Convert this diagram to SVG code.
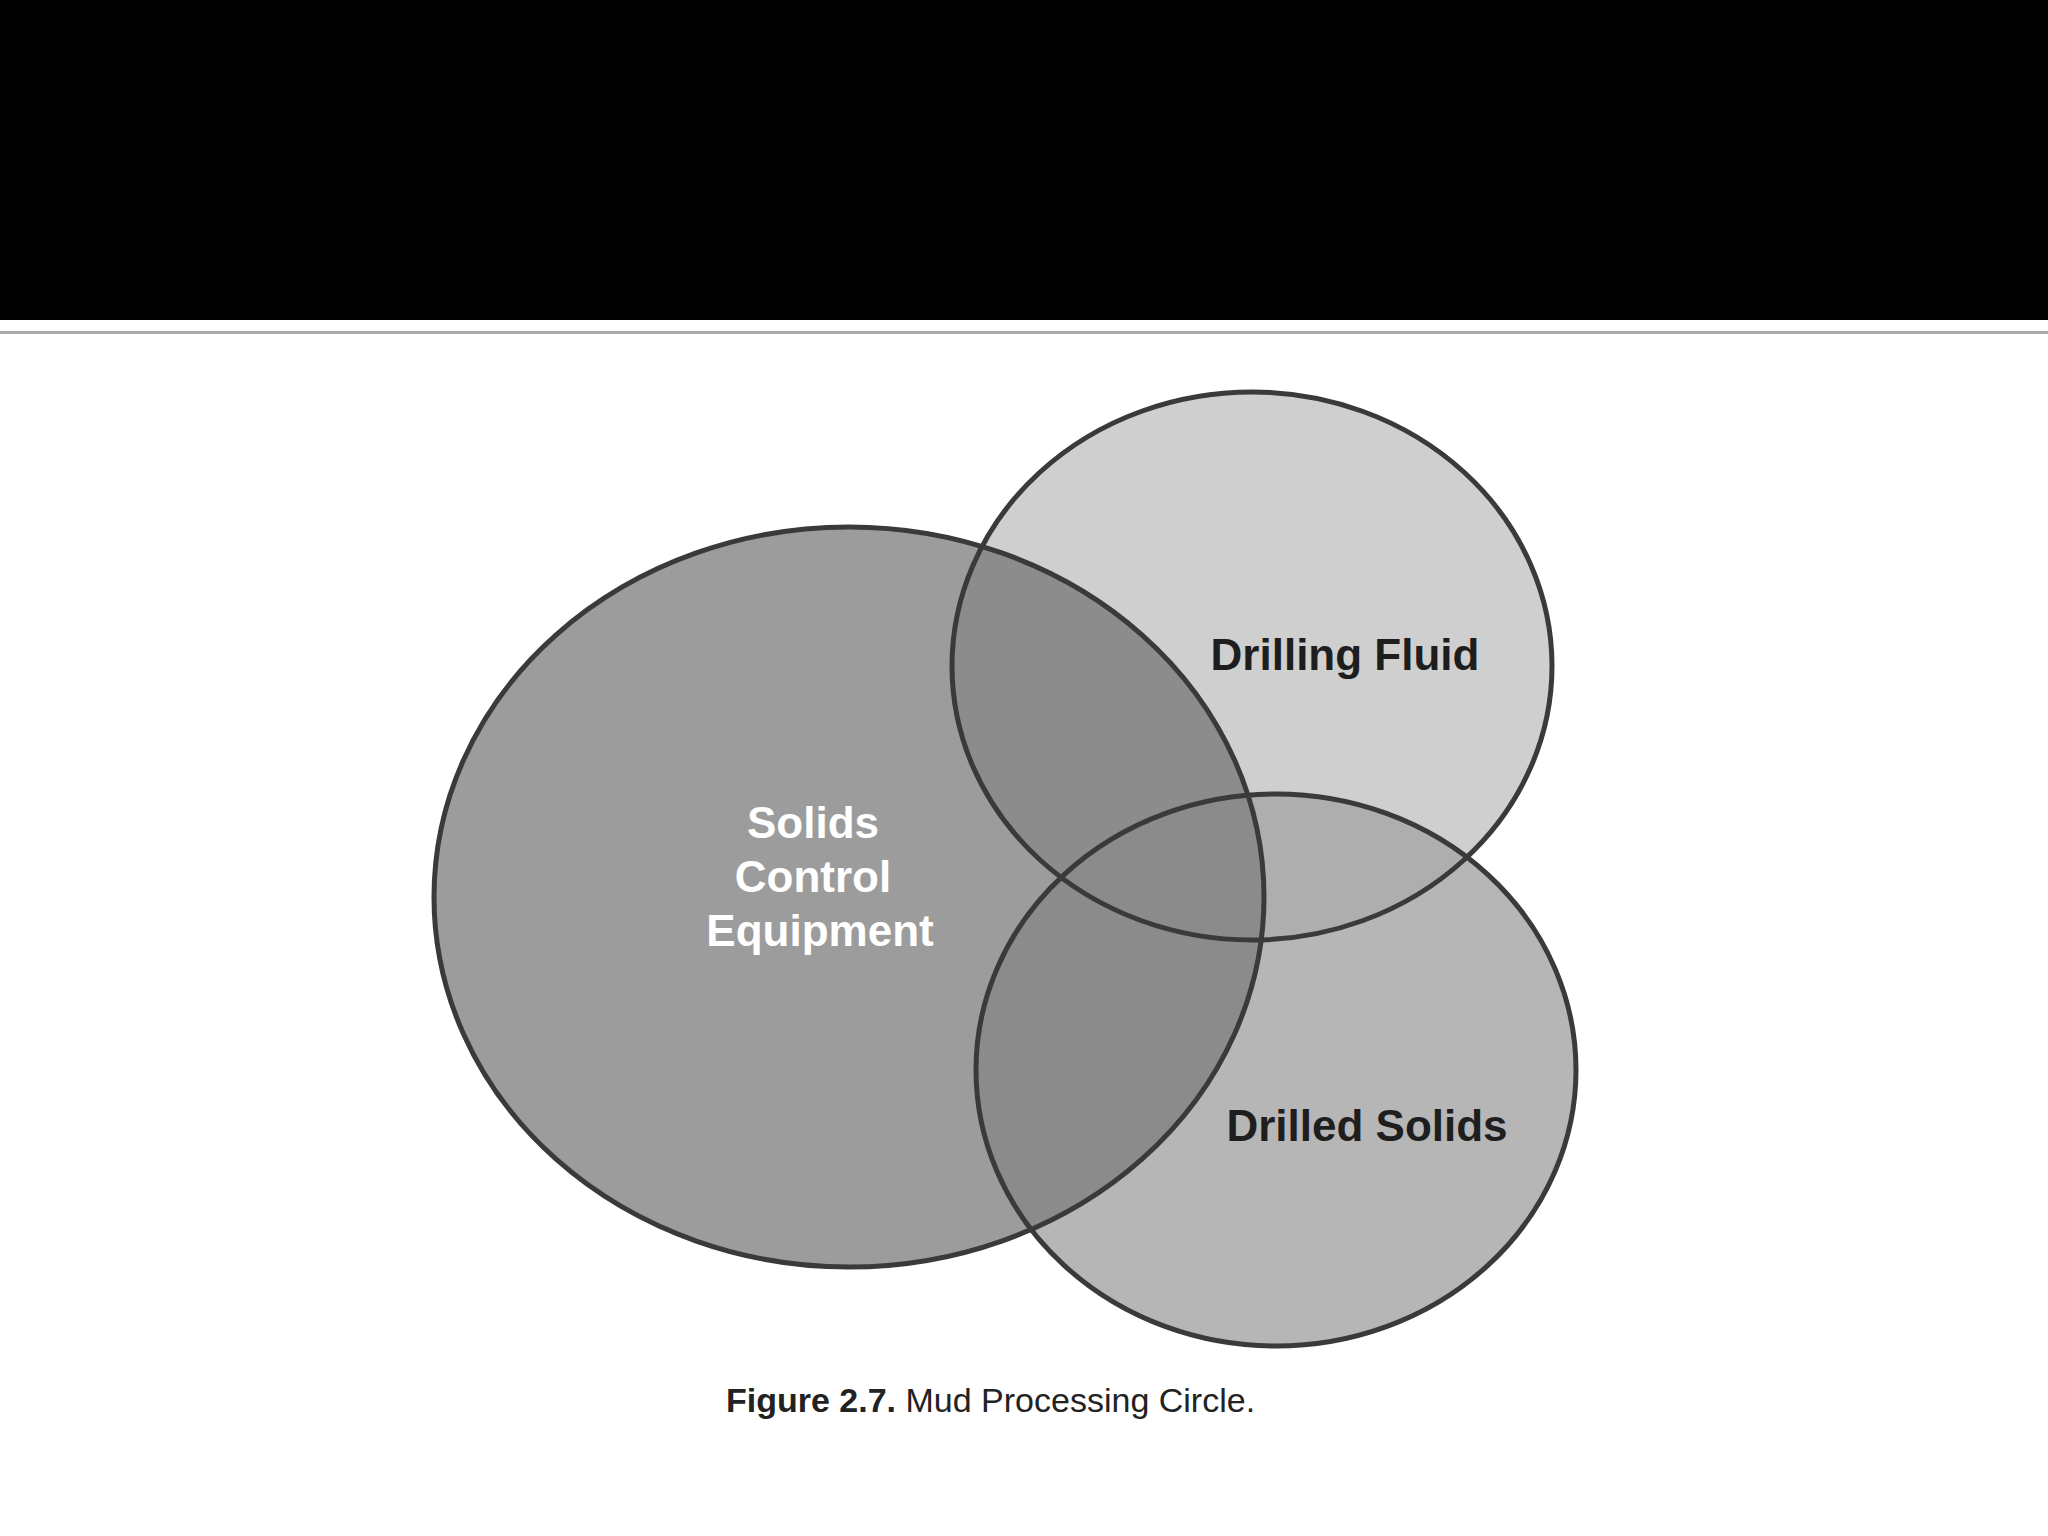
<svg xmlns="http://www.w3.org/2000/svg" width="2048" height="1536" viewBox="0 0 2048 1536">
<style>
.o{fill:none;stroke:#3a3a3a;stroke-width:5}
.lbl{font-family:"Liberation Sans",Arial,sans-serif;font-weight:bold;font-size:44px;fill:#1e1e1e;text-anchor:middle}
.w{fill:#fff}
</style>
<defs>
<clipPath id="cBig"><ellipse cx="849" cy="897" rx="415" ry="370"/></clipPath>
<clipPath id="cFl"><ellipse cx="1252" cy="666" rx="300" ry="274"/></clipPath>
</defs>
<rect width="2048" height="1536" fill="#fff"/>
<rect width="2048" height="320" fill="#000"/>
<rect x="0" y="331" width="2048" height="3" fill="#aaa"/>
<g id="fluid"><ellipse cx="1252" cy="666" rx="300" ry="274" fill="#cfcfcf"/></g>
<g id="solids"><ellipse cx="1276" cy="1070" rx="300" ry="276" fill="#b6b6b6"/>
<ellipse cx="1276" cy="1070" rx="300" ry="276" fill="#aeaeae" clip-path="url(#cFl)"/></g>
<g id="equipment"><ellipse cx="849" cy="897" rx="415" ry="370" fill="#9c9c9c"/>
<g clip-path="url(#cBig)"><ellipse cx="1252" cy="666" rx="300" ry="274" fill="#8c8c8c"/><ellipse cx="1276" cy="1070" rx="300" ry="276" fill="#8b8b8b"/></g></g>
<g id="outlines">
<ellipse class="o" cx="1252" cy="666" rx="300" ry="274"/>
<ellipse class="o" cx="1276" cy="1070" rx="300" ry="276"/>
<ellipse class="o" cx="849" cy="897" rx="415" ry="370"/>
</g>
<text class="lbl" x="1345" y="670">Drilling Fluid</text>
<text class="lbl" x="1367" y="1141">Drilled Solids</text>
<text class="lbl w" x="813" y="838">Solids</text>
<text class="lbl w" x="813" y="892">Control</text>
<text class="lbl w" x="820" y="946">Equipment</text>
<text x="726" y="1412" font-family="'Liberation Sans',Arial,sans-serif" font-size="34" fill="#222"><tspan font-weight="bold">Figure 2.7.</tspan> Mud Processing Circle.</text>
</svg>
